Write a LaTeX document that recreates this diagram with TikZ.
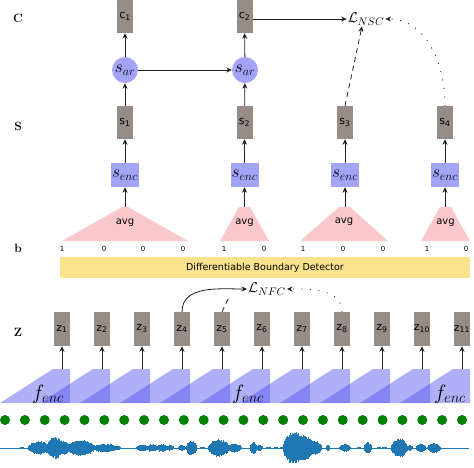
\documentclass[tikz,border=0pt]{standalone}
\usepackage{fontspec}
\setsansfont{DejaVu Sans}
\usetikzlibrary{arrows.meta,calc}
\definecolor{boxgray}{RGB}{151,141,134}
\definecolor{lav}{RGB}{163,163,248}
\definecolor{pinkavg}{RGB}{250,200,202}
\definecolor{dbdyellow}{RGB}{251,226,140}
\definecolor{encblue}{RGB}{80,80,240}
\definecolor{dotgreen}{RGB}{0,128,0}
\definecolor{wavec}{RGB}{31,119,180}
\definecolor{arrowc}{RGB}{30,30,30}
\begin{document}
\begin{tikzpicture}[x=1pt,y=-1pt,
  gbox/.style={fill=boxgray, minimum width=16pt, minimum height=33pt, inner sep=0pt, font=\sffamily\fontsize{11}{11}\selectfont},
  encbox/.style={fill=lav, minimum width=28pt, minimum height=24pt, inner sep=0pt, font=\fontsize{17}{17}\selectfont},
  arcirc/.style={circle, fill=lav, minimum size=26pt, inner sep=0pt, font=\fontsize{18}{18}\selectfont},
  arr/.style={-{Stealth[length=5.5pt,width=5pt]}, line width=0.8pt, draw=arrowc},
  dashedarr/.style={arr, dash pattern=on 5pt off 4pt},
  dottedarr/.style={arr, dash pattern=on 1pt off 7.5pt},
  encfill/.style={fill=encblue, fill opacity=0.45},
  avgfill/.style={fill=pinkavg},
  avglab/.style={font=\sffamily\fontsize{10}{10}\selectfont, inner sep=0pt},
  num/.style={font=\sffamily\fontsize{7}{7}\selectfont, inner sep=0pt},
  rowlab/.style={font=\bfseries\fontsize{12}{12}\selectfont, inner sep=0pt},
  loss/.style={font=\fontsize{15}{15}\selectfont, inner sep=1pt},
  fenc/.style={font=\fontsize{21}{21}\selectfont, inner sep=0pt},
]
\useasboundingbox (0,0) rectangle (474,467);
\pgfmathsetseed{11}

% row labels
\node[rowlab] (lc) at (18,18) {C};
\node[rowlab] (ls) at (18,126) {S};
\node[rowlab] (lb) at (18,248) {b};
\node[rowlab] (lz) at (18,332) {Z};

% top row c
\node[gbox] (c1) at (125,16.5) {c\textsubscript{1}};
\node[gbox] (c2) at (244.5,16.5) {c\textsubscript{2}};

% s_ar
\node[arcirc] (ar1) at (125,70) {$s_{ar}$};
\node[arcirc] (ar2) at (245,70) {$s_{ar}$};

% s boxes
\node[gbox] (s1) at (125,122.5) {s\textsubscript{1}};
\node[gbox] (s2) at (244.5,122.5) {s\textsubscript{2}};
\node[gbox] (s3) at (345,122.5) {s\textsubscript{3}};
\node[gbox] (s4) at (445,122.5) {s\textsubscript{4}};

% s_enc boxes
\node[encbox] (senc1) at (125,175) {$s_{enc}$};
\node[encbox] (senc2) at (244.5,175) {$s_{enc}$};
\node[encbox] (senc3) at (345,175) {$s_{enc}$};
\node[encbox] (senc4) at (445,175) {$s_{enc}$};

% avg trapezoids
\fill[avgfill] (62,241) -- (122,207) -- (128,207) -- (188,241) -- cycle;
\fill[avgfill] (220,241) -- (239,207) -- (250,207) -- (269,241) -- cycle;
\fill[avgfill] (300,241) -- (339,207) -- (350,207) -- (388,241) -- cycle;
\fill[avgfill] (421,241) -- (440,207) -- (451,207) -- (470,241) -- cycle;
\coordinate (t1) at (125,207);
\coordinate (t2) at (244.5,207);
\coordinate (t3) at (345,207);
\coordinate (t4) at (445,207);
\node[avglab] (avg1) at (125,223) {avg};
\node[avglab] (avg2) at (244.5,223) {avg};
\node[avglab] (avg3) at (344,222) {avg};
\node[avglab] (avg4) at (445.5,223) {avg};

% boundary numbers
\foreach \x/\v [count=\k] in {62/1,104/0,143/0,183/0,224/1,264/0,303/1,343/0,383/0,427/1,466/0}
  \node[num] (b\k) at (\x,249) {\v};

% DBD bar
\node[fill=dbdyellow, minimum width=410pt, minimum height=21pt, inner sep=0pt,
      font=\sffamily\fontsize{9.5}{9.5}\selectfont] (dbd) at (265,267.5) {Differentiable Boundary Detector};

% f_enc shapes
\foreach \i in {1,...,11} {
  \pgfmathsetmacro\xr{30+40*\i}
  \fill[encfill] (\xr-70,403) -- (\xr-17,369) -- (\xr,369) -- (\xr,403) -- cycle;
  \coordinate (f\i) at (\xr-8,369);
}
\node[fenc] (fe1) at (48,394) {$f_{enc}$};
\node[fenc] (fe2) at (248,394) {$f_{enc}$};
\node[fenc] (fe3) at (450,394) {$f_{enc}$};

% z boxes
\foreach \i in {1,...,11}
  \node[gbox, minimum height=34pt] (z\i) at ({22+40*\i},329) {z\textsubscript{\i}};

% losses
\node[loss] (nsc) at (366,19) {$\mathcal{L}_{NSC}$};
\node[loss] (nfc) at (267,289) {$\mathcal{L}_{NFC}$};
\coordinate (d5) at (229,297);

% vertical arrows
\foreach \i in {1,2} {
  \draw[arr] (s\i) -- (ar\i);
  \draw[arr] (ar\i) -- (c\i);
}
\foreach \i in {1,...,4} {
  \draw[arr] (senc\i) -- (s\i);
  \draw[arr] (t\i) -- (senc\i);
}
\foreach \i in {1,...,11}
  \draw[arr] (f\i) -- (z\i);
\draw[arr] (ar1) -- (ar2);

% loss connectors
\draw[arr] (c2.east |- nsc.west) -- (nsc.west);
\draw[dashedarr] (s3.north) -- ([xshift=-4pt]nsc.south);
\draw[dottedarr] (s4.north) to[out=90,in=0] (nsc.east);
\draw[arr] (z4.north) to[out=90,in=180] (nfc.west);
\draw[line width=0.8pt, draw=arrowc, dash pattern=on 5pt off 4pt] (z5.north) -- (d5);
\draw[dottedarr] (z8.north) to[out=90,in=0] (nfc.east);

% green dots
\foreach \i in {0,...,23}
  \fill[dotgreen] ({5+19.87*\i},420) circle (5pt);

% waveform
\begin{scope}[shift={(0,448)}]
  \draw[wavec, line width=0.8pt] (0,0) -- (469,0);
  \foreach \a/\b/\h in {20/24/1, 28/50/7, 46/64/11, 58/70/7, 66/96/8, 92/118/4.5, 116/121/2, 136/149/3.5, 146/158/4, 156/168/4, 166/174/3, 178/186/3, 186/197/7.5, 200/205/1.2, 208/230/9, 227/242/4.5, 250/257/6.5, 256/263/3, 266/271/1.5, 274/278/1.5, 280/284/1.5, 283/304/17, 292/315/13, 308/322/7, 326/330/3, 339/351/4, 357/361/1.5, 364/372/6, 377/381/1.5, 382/387/1.5, 391/408/9.5, 406/413/3, 416/426/4.5, 427/441/5} {
    \pgfmathsetmacro\n{int((\b-\a)/0.6)}
    \foreach \j in {0,...,\n} {
      \pgfmathsetmacro\xx{\a+\j*0.6}
      \pgfmathsetmacro\tt{min(1,(\xx-\a)/(\b-\a))}
      \pgfmathsetmacro\env{\h*(abs(sin(180*\tt))+0.02)^0.6}
      \pgfmathsetmacro\up{\env*(0.75+0.25*rnd)}
      \pgfmathsetmacro\dn{\env*(0.75+0.25*rnd)}
      \draw[wavec, line width=0.75pt] (\xx,-\up) -- (\xx,\dn);
    }
  }
\end{scope}
\end{tikzpicture}
\end{document}
